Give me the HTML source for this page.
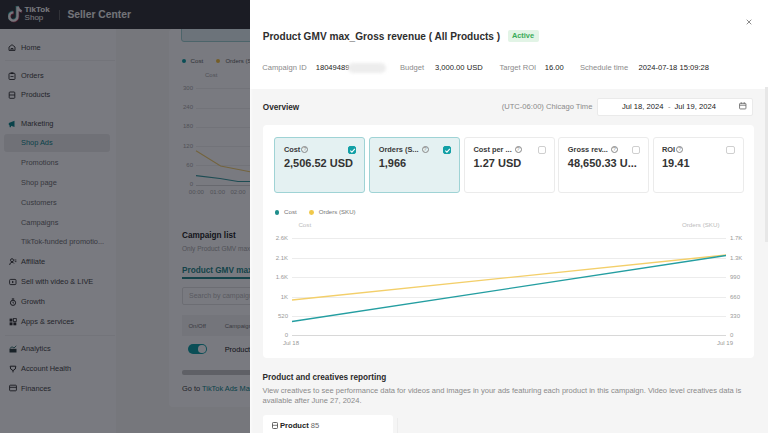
<!DOCTYPE html>
<html><head><meta charset="utf-8">
<style>
*{box-sizing:border-box;margin:0;padding:0}
html,body{width:768px;height:433px;overflow:hidden;background:#f5f5f5;font-family:"Liberation Sans",sans-serif;color:#222}
.abs{position:absolute;white-space:nowrap}
#bg{position:absolute;z-index:0;left:0;top:0;width:768px;height:433px;background:#f8f8f7}
#hdr{position:absolute;z-index:2;left:0;top:0;width:768px;height:29px;background:#37373a}
#side{position:absolute;left:0;top:29px;width:116px;height:404px;background:#fff}
.nav{position:absolute;left:21px;font-size:7.4px;color:#4a4a4a;line-height:10px}
.sub{position:absolute;left:21px;font-size:7.4px;color:#727272;line-height:10px}
.ico{position:absolute;left:8px;width:7px;height:7px}
#card{position:absolute;left:169px;top:29px;width:640px;height:378px;background:#fff;border-radius:4px}
#overlay{position:absolute;left:0;top:0;width:768px;height:433px;background:rgba(4,6,16,0.535)}
#drawer{position:absolute;left:250px;top:0;width:518px;height:433px;background:#f5f5f5}
#dtop{position:absolute;left:0;top:0;width:518px;height:89px;background:#fff}
.lbl{font-size:7.6px;color:#8a8a8a}
.val{font-size:7.6px;color:#222}
.mc{position:absolute;top:137px;width:91px;height:56px;border:1px solid #ebebeb;border-radius:3px;background:#fff}
.mc.on{background:#e4f1f2;border-color:#9fd3d5}
.mc .t{position:absolute;left:8.5px;top:7px;font-size:7.4px;font-weight:700;color:#3a3a3a;white-space:nowrap}
.mc .v{position:absolute;left:8.5px;top:18.5px;font-size:11px;font-weight:700;color:#333;white-space:nowrap}
.mc .cb{position:absolute;right:8px;top:7.5px;width:8.5px;height:8.5px;border:1px solid #cfcfcf;border-radius:2px;background:#fff}
.mc.on .cb{background:#12a0a6;border-color:#12a0a6}
.mc .cb svg{position:absolute;left:0;top:0}
.q{display:inline-block;width:7px;height:7px;border:0.8px solid #888;border-radius:50%;font-size:5px;line-height:5.6px;text-align:center;color:#888;vertical-align:top;margin-top:1px;margin-left:1px;font-weight:400}
.yl{position:absolute;font-size:6px;color:#999;text-align:right;width:30px;left:258px;line-height:7px}
.yr{position:absolute;font-size:6px;color:#999;left:730px;line-height:7px}
.gl{position:absolute;left:292px;width:434px;height:1px;background:#ececec}
</style></head><body>
<div id="bg">
  <div id="hdr">
    <svg class="abs" style="left:7.5px;top:4.5px" width="16" height="18" viewBox="0 0 16 18">
      <g transform="translate(-0.6,-0.5)" opacity="0.55"><path d="M9.5 1.5 V11.5 A4.1 4.1 0 1 1 5.4 7.4" fill="none" stroke="#25f4ee" stroke-width="2.6"/><path d="M9.5 1.5 Q10.3 5.2 13.6 6.3" fill="none" stroke="#25f4ee" stroke-width="2.4"/></g>
      <g transform="translate(0.6,0.5)" opacity="0.55"><path d="M9.5 1.5 V11.5 A4.1 4.1 0 1 1 5.4 7.4" fill="none" stroke="#fe2c55" stroke-width="2.6"/><path d="M9.5 1.5 Q10.3 5.2 13.6 6.3" fill="none" stroke="#fe2c55" stroke-width="2.4"/></g>
      <path d="M9.5 1.5 V11.5 A4.1 4.1 0 1 1 5.4 7.4 M9.5 1.5 Q10.3 5.2 13.6 6.3" fill="none" stroke="#f4f4f4" stroke-width="2.4"/>
    </svg>
    <div class="abs" style="left:24.6px;top:6px;font-size:8px;font-weight:700;color:#fff;line-height:8px">TikTok</div>
    <div class="abs" style="left:24.6px;top:13.5px;font-size:8px;color:#fff;line-height:8px">Shop</div>
    <div class="abs" style="left:58.5px;top:10px;width:1px;height:10px;background:#666"></div>
    <div class="abs" style="left:67.4px;top:8.5px;font-size:10.3px;font-weight:700;color:#f0f0f0;line-height:12px">Seller Center</div>
  </div>
  <div id="side">
    <div class="abs" style="left:5px;top:30.5px;width:110px;height:1px;background:#f2f2f2"></div>
    <div class="abs" style="left:5px;top:305.5px;width:110px;height:1px;background:#f2f2f2"></div>
    <div class="abs" style="left:4px;top:105px;width:106px;height:18px;background:#ececec;border-radius:3px"></div>
  </div>
  <div class="nav" style="top:43px">Home</div>
  <div class="nav" style="top:71px">Orders</div>
  <div class="nav" style="top:90px">Products</div>
  <div class="nav" style="top:118.5px">Marketing</div>
  <div class="sub" style="top:138px;color:#11888c">Shop Ads</div>
  <div class="sub" style="top:157.5px">Promotions</div>
  <div class="sub" style="top:177.5px">Shop page</div>
  <div class="sub" style="top:197.5px">Customers</div>
  <div class="sub" style="top:217.5px">Campaigns</div>
  <div class="sub" style="top:237px">TikTok-funded promotio...</div>
  <div class="nav" style="top:257px">Affiliate</div>
  <div class="nav" style="top:276.5px">Sell with video &amp; LIVE</div>
  <div class="nav" style="top:296.5px">Growth</div>
  <div class="nav" style="top:316.5px">Apps &amp; services</div>
  <div class="nav" style="top:344px">Analytics</div>
  <div class="nav" style="top:364px">Account Health</div>
  <div class="nav" style="top:384px">Finances</div>
  <svg class="abs" style="left:8px;top:43.5px" width="8" height="7" viewBox="0 0 8 7"><path d="M1 3 L4 0.7 L7 3 V6.4 H1 Z M3 6.4 V4.5 H5 V6.4" fill="none" stroke="#333" stroke-width="0.9"/></svg>
  <svg class="abs" style="left:8px;top:71.5px" width="8" height="8" viewBox="0 0 8 8"><rect x="1" y="1.3" width="6" height="6.2" rx="0.8" fill="none" stroke="#333" stroke-width="0.9"/><rect x="2.6" y="0.4" width="2.8" height="1.6" fill="#333"/><line x1="2.5" y1="4.5" x2="5.5" y2="4.5" stroke="#333" stroke-width="0.8"/></svg>
  <svg class="abs" style="left:8px;top:90.8px" width="8" height="8" viewBox="0 0 8 8"><rect x="1.2" y="1" width="5.6" height="6.3" rx="0.8" fill="none" stroke="#333" stroke-width="0.9"/><line x1="1.2" y1="4" x2="6.8" y2="4" stroke="#333" stroke-width="0.9"/></svg>
  <svg class="abs" style="left:8px;top:120px" width="8" height="8" viewBox="0 0 8 8"><path d="M0.8 3 L6.5 0.8 V7 L0.8 5 Z" fill="#11888c"/><rect x="1.6" y="4.8" width="1.4" height="2.4" fill="#11888c"/></svg>
  <svg class="abs" style="left:8.5px;top:258px" width="8" height="8" viewBox="0 0 8 8"><circle cx="3" cy="2.2" r="1.5" fill="none" stroke="#333" stroke-width="0.9"/><path d="M0.6 7 Q1 4.3 3 4.3 Q4.5 4.3 5 5.5" fill="none" stroke="#333" stroke-width="0.9"/><line x1="5.3" y1="2" x2="7.4" y2="2" stroke="#333" stroke-width="0.8"/><line x1="5.8" y1="3.6" x2="7.4" y2="3.6" stroke="#333" stroke-width="0.8"/></svg>
  <svg class="abs" style="left:8.5px;top:278px" width="8" height="8" viewBox="0 0 8 8"><rect x="0.6" y="1.4" width="6.4" height="5.2" rx="1" fill="none" stroke="#333" stroke-width="0.9"/><path d="M3 2.8 L5 4 L3 5.2 Z" fill="#333"/></svg>
  <svg class="abs" style="left:8.5px;top:298px" width="8" height="8" viewBox="0 0 8 8"><circle cx="4" cy="4.8" r="2.6" fill="none" stroke="#333" stroke-width="1"/><rect x="2.8" y="0.4" width="2.4" height="1.2" fill="#333"/><path d="M4 3.5 V5 L5 5" fill="none" stroke="#333" stroke-width="0.8"/></svg>
  <svg class="abs" style="left:8.5px;top:318px" width="8" height="8" viewBox="0 0 8 8"><rect x="0.6" y="0.6" width="2.9" height="2.9" fill="#333"/><rect x="4.4" y="0.6" width="2.9" height="2.9" fill="none" stroke="#333" stroke-width="0.8"/><rect x="0.6" y="4.4" width="2.9" height="2.9" fill="#333"/><rect x="4.4" y="4.4" width="2.9" height="2.9" fill="#333"/></svg>
  <svg class="abs" style="left:8.5px;top:345px" width="8" height="8" viewBox="0 0 8 8"><rect x="0.5" y="3.8" width="7" height="3.7" fill="#344"/><path d="M0.8 3.5 L3 1.8 L5 3 L7.3 0.8" fill="none" stroke="#2a6a68" stroke-width="0.9"/></svg>
  <svg class="abs" style="left:8.5px;top:365px" width="8" height="8" viewBox="0 0 8 8"><path d="M1.2 1.2 H6.8 Q7.2 4.6 4 5.6 Q0.8 4.6 1.2 1.2 Z" fill="none" stroke="#333" stroke-width="1"/><line x1="4" y1="5.6" x2="4" y2="7.4" stroke="#333" stroke-width="1"/></svg>
  <svg class="abs" style="left:8.5px;top:384px" width="8" height="8" viewBox="0 0 8 8"><rect x="0.6" y="1.2" width="6.8" height="5.6" rx="0.8" fill="none" stroke="#333" stroke-width="0.9"/><line x1="0.6" y1="3.3" x2="7.4" y2="3.3" stroke="#333" stroke-width="0.9"/></svg>
  <div id="card"></div>
  <div class="abs" style="left:181px;top:22px;width:80px;height:19.5px;background:#e4f1f2;border:1px solid #9fcfd0;border-radius:3px"></div>
  <div class="abs" style="left:182px;top:59px;width:4px;height:4px;border-radius:50%;background:#12a0a6"></div>
  <div class="abs" style="left:190.5px;top:57px;font-size:6.2px;color:#666;line-height:8px">Cost</div>
  <div class="abs" style="left:216px;top:59px;width:4px;height:4px;border-radius:50%;background:#f5c242"></div>
  <div class="abs" style="left:225.4px;top:57px;font-size:6px;color:#666;line-height:8px">Orders (SKU)</div>
  <div class="abs" style="left:205px;top:70.5px;font-size:6px;color:#aaa;line-height:8px">Cost</div>
  <div class="abs" style="left:163px;top:84.5px;width:30px;text-align:right;font-size:6px;color:#aaa;line-height:7px">300</div>
  <div class="abs" style="left:163px;top:104px;width:30px;text-align:right;font-size:6px;color:#aaa;line-height:7px">240</div>
  <div class="abs" style="left:163px;top:123px;width:30px;text-align:right;font-size:6px;color:#aaa;line-height:7px">180</div>
  <div class="abs" style="left:163px;top:142.5px;width:30px;text-align:right;font-size:6px;color:#aaa;line-height:7px">120</div>
  <div class="abs" style="left:163px;top:161.5px;width:30px;text-align:right;font-size:6px;color:#aaa;line-height:7px">60</div>
  <div class="abs" style="left:163px;top:181px;width:30px;text-align:right;font-size:6px;color:#aaa;line-height:7px">0</div>
  <div class="abs" style="left:196px;top:88px;width:60px;height:1px;background:#f0f0f0"></div>
  <div class="abs" style="left:196px;top:107.5px;width:60px;height:1px;background:#f0f0f0"></div>
  <div class="abs" style="left:196px;top:126.5px;width:60px;height:1px;background:#f0f0f0"></div>
  <div class="abs" style="left:196px;top:146px;width:60px;height:1px;background:#f0f0f0"></div>
  <div class="abs" style="left:196px;top:165px;width:60px;height:1px;background:#f0f0f0"></div>
  <div class="abs" style="left:196px;top:184.5px;width:60px;height:1px;background:#d8d8d8"></div>
  <div class="abs" style="left:188.8px;top:188.5px;font-size:6px;color:#aaa;line-height:7px">00:00</div>
  <div class="abs" style="left:210px;top:188.5px;font-size:6px;color:#aaa;line-height:7px">01:00</div>
  <div class="abs" style="left:230.5px;top:188.5px;font-size:6px;color:#aaa;line-height:7px">02:00</div>
  <svg class="abs" style="left:0;top:0" width="260" height="200"><polyline points="196,150.7 220.6,166 250,171.8 260,172" fill="none" stroke="#f2cf73" stroke-width="1.1"/><polyline points="196,175.6 220,178.5 238,181.5 260,181.5" fill="none" stroke="#3b9c9f" stroke-width="1.2"/></svg>
  <div class="abs" style="left:182px;top:230.7px;font-size:8.2px;font-weight:700;color:#2a2a2a;line-height:10px">Campaign list</div>
  <div class="abs" style="left:182px;top:244.5px;font-size:6.5px;color:#aaa;line-height:8px">Only Product GMV max campaigns</div>
  <div class="abs" style="left:182px;top:266.3px;font-size:8.2px;font-weight:700;color:#2a8a8a;line-height:10px">Product GMV max</div>
  <div class="abs" style="left:182px;top:278px;width:80px;height:1px;background:#eee"></div>
  <div class="abs" style="left:182px;top:277.3px;width:80px;height:1.6px;background:#2a8a8a"></div>
  <div class="abs" style="left:182px;top:286.5px;width:80px;height:18.5px;border:1px solid #e3e3e3;border-radius:2px;background:#fff"></div>
  <div class="abs" style="left:189px;top:292px;font-size:7px;color:#bbb;line-height:8px">Search by campaign</div>
  <div class="abs" style="left:182px;top:314.6px;width:80px;height:21px;background:#f5f5f5"></div>
  <div class="abs" style="left:188.4px;top:322px;font-size:6px;color:#777;line-height:8px">On/Off</div>
  <div class="abs" style="left:224.7px;top:322px;font-size:6px;color:#777;line-height:8px">Campaign</div>
  <div class="abs" style="left:188px;top:344.3px;width:19px;height:9.6px;border-radius:5px;background:#12a0a6"></div>
  <div class="abs" style="left:198.4px;top:345.3px;width:7.6px;height:7.6px;border-radius:50%;background:#fff"></div>
  <div class="abs" style="left:224.7px;top:344.5px;font-size:7.4px;color:#222;line-height:9px">Product GMV</div>
  <div class="abs" style="left:182px;top:370.3px;width:80px;height:4.6px;background:#c8c8c8;border-radius:2px"></div>
  <div class="abs" style="left:182px;top:384px;font-size:7.4px;color:#444;line-height:9px">Go to <span style="color:#11888c">TikTok Ads Manager</span></div>
</div>
<div id="overlay"></div>
<div id="drawer">
  <div id="dtop">
    <div class="abs" style="left:12.7px;top:31px;font-size:10.1px;font-weight:700;color:#2e2e2e;line-height:12px">Product GMV max_Gross revenue ( All Products )</div>
    <div class="abs" style="left:257.5px;top:30px;width:31px;height:12px;background:#e2f4e6;border-radius:2px;font-size:7.4px;color:#3aab58;font-weight:700;text-align:center;line-height:12px">Active</div>
    <svg class="abs" style="left:495.5px;top:19px" width="6" height="6" viewBox="0 0 6 6"><path d="M0.7 0.7 L5.3 5.3 M5.3 0.7 L0.7 5.3" stroke="#777" stroke-width="0.85"/></svg>
    <div class="abs lbl" style="left:12.3px;top:63px;line-height:9px">Campaign ID</div>
    <div class="abs val" style="left:65.7px;top:63px;line-height:9px">18049489</div>
    <div class="abs" style="left:98px;top:63px;width:38px;height:10px;background:#ededed;border-radius:5px;filter:blur(1.8px)"></div>
    <div class="abs lbl" style="left:150px;top:63px;line-height:9px">Budget</div>
    <div class="abs val" style="left:185px;top:63px;line-height:9px">3,000.00 USD</div>
    <div class="abs lbl" style="left:249.5px;top:63px;line-height:9px">Target ROI</div>
    <div class="abs val" style="left:294.7px;top:63px;line-height:9px">16.00</div>
    <div class="abs lbl" style="left:330px;top:63px;line-height:9px">Schedule time</div>
    <div class="abs val" style="left:388.5px;top:63px;line-height:9px">2024-07-18 15:09:28</div>
  </div>
  <div class="abs" style="left:12.8px;top:102.8px;font-size:8.2px;font-weight:700;color:#2a2a2a;line-height:10px">Overview</div>
  <div class="abs lbl" style="left:251.7px;top:102px;line-height:9px">(UTC-06:00) Chicago Time</div>
  <div class="abs" style="left:346.6px;top:97.7px;width:156.7px;height:18px;background:#fff;border:1px solid #eaeaea;border-radius:2px"></div>
  <div class="abs val" style="left:372px;top:102px;line-height:9px">Jul 18, 2024</div>
  <div class="abs lbl" style="left:418px;top:102px;line-height:9px">-</div>
  <div class="abs val" style="left:424.5px;top:102px;line-height:9px">Jul 19, 2024</div>
  <svg class="abs" style="left:489px;top:102px" width="7.5" height="7.5" viewBox="0 0 8 8"><rect x="0.6" y="1.4" width="6.8" height="6" rx="0.8" fill="none" stroke="#666" stroke-width="0.9"/><line x1="0.6" y1="3.4" x2="7.4" y2="3.4" stroke="#666" stroke-width="0.9"/><line x1="2.4" y1="0.3" x2="2.4" y2="2" stroke="#666" stroke-width="0.9"/><line x1="5.6" y1="0.3" x2="5.6" y2="2" stroke="#666" stroke-width="0.9"/></svg>
  <div class="abs" style="left:12.5px;top:125px;width:491px;height:233px;background:#fff;border-radius:4px"></div>
</div>
<div class="mc on" style="left:274.4px"><div class="t">Cost<span class="q">?</span></div><div class="v">2,506.52 USD</div><div class="cb"><svg width="7" height="7" viewBox="0 0 7 7"><path d="M1.3 3.6 L2.9 5.1 L5.8 1.8" fill="none" stroke="#fff" stroke-width="1.1"/></svg></div></div>
<div class="mc on" style="left:369.2px"><div class="t">Orders (S... <span class="q">?</span></div><div class="v">1,966</div><div class="cb"><svg width="7" height="7" viewBox="0 0 7 7"><path d="M1.3 3.6 L2.9 5.1 L5.8 1.8" fill="none" stroke="#fff" stroke-width="1.1"/></svg></div></div>
<div class="mc" style="left:464px"><div class="t">Cost per ... <span class="q">?</span></div><div class="v">1.27 USD</div><div class="cb"></div></div>
<div class="mc" style="left:558.3px"><div class="t">Gross rev... <span class="q">?</span></div><div class="v">48,650.33 U...</div><div class="cb"></div></div>
<div class="mc" style="left:652.5px"><div class="t">ROI<span class="q">?</span></div><div class="v">19.41</div><div class="cb"></div></div>

<div class="abs" style="left:274.6px;top:210px;width:4.8px;height:4.8px;border-radius:50%;background:#1f8e8c"></div>
<div class="abs" style="left:284px;top:208.3px;font-size:6.2px;color:#777;line-height:8px">Cost</div>
<div class="abs" style="left:309.4px;top:210px;width:4.8px;height:4.8px;border-radius:50%;background:#f0c84a"></div>
<div class="abs" style="left:318.7px;top:208.3px;font-size:6.1px;color:#777;line-height:8px">Orders (SKU)</div>
<div class="abs" style="left:298.4px;top:221.4px;font-size:6.2px;color:#bbb;line-height:8px">Cost</div>
<div class="abs" style="left:682px;top:221.4px;font-size:6.2px;color:#bbb;line-height:8px">Orders (SKU)</div>

<div class="gl" style="top:238px"></div>
<div class="gl" style="top:257.5px"></div>
<div class="gl" style="top:277px"></div>
<div class="gl" style="top:296.5px"></div>
<div class="gl" style="top:316px"></div>
<div class="gl" style="top:335px;background:#d8d8d8"></div>
<div class="yl" style="top:235px">2.6K</div>
<div class="yl" style="top:254.5px">2.1K</div>
<div class="yl" style="top:274px">1.6K</div>
<div class="yl" style="top:293.5px">1K</div>
<div class="yl" style="top:313px">520</div>
<div class="yl" style="top:332px">0</div>
<div class="yr" style="top:235px">1.7K</div>
<div class="yr" style="top:254.5px">1.3K</div>
<div class="yr" style="top:274px">990</div>
<div class="yr" style="top:293.5px">660</div>
<div class="yr" style="top:313px">330</div>
<div class="yr" style="top:332px">0</div>
<div class="abs" style="left:283px;top:339.5px;font-size:6px;color:#999;line-height:7px">Jul 18</div>
<div class="abs" style="left:717px;top:339.5px;font-size:6px;color:#999;line-height:7px">Jul 19</div>
<svg class="abs" style="left:0;top:0" width="768" height="433">
  <line x1="292" y1="300" x2="726" y2="255" stroke="#f3cf6a" stroke-width="1.3"/>
  <line x1="292" y1="321.5" x2="726" y2="255.5" stroke="#249ea1" stroke-width="1.3"/>
</svg>

<div class="abs" style="left:262.5px;top:372.8px;font-size:8.2px;font-weight:700;color:#2a2a2a;line-height:10px">Product and creatives reporting</div>
<div class="abs" style="left:262.5px;top:385.5px;font-size:7.55px;color:#8a8a8a;line-height:10.2px;white-space:normal;width:485px">View creatives to see performance data for videos and images in your ads featuring each product in this campaign. Video level creatives data is available after June 27, 2024.</div>
<div class="abs" style="left:262.5px;top:415.3px;width:130px;height:30px;background:#fff;border-radius:3px"></div>
<svg class="abs" style="left:271.5px;top:422px" width="6" height="7" viewBox="0 0 6 7"><rect x="0.5" y="0.5" width="5" height="6" rx="0.8" fill="none" stroke="#555" stroke-width="0.9"/><line x1="0.5" y1="3.3" x2="5.5" y2="3.3" stroke="#555" stroke-width="0.8"/></svg>
<div class="abs" style="left:280px;top:420.5px;font-size:7.6px;font-weight:700;color:#222;line-height:9px">Product <span style="font-weight:400;color:#666">85</span></div>
<div class="abs" style="left:397px;top:418px;width:1px;height:15px;background:#ececec"></div>
<div class="abs" style="left:250px;top:89px;width:3px;height:344px;background:linear-gradient(90deg,#fbfbfb,#f5f5f5)"></div>
<div class="abs" style="left:765px;top:87px;width:3px;height:155px;background:#e7e7e7"></div>
</body></html>
